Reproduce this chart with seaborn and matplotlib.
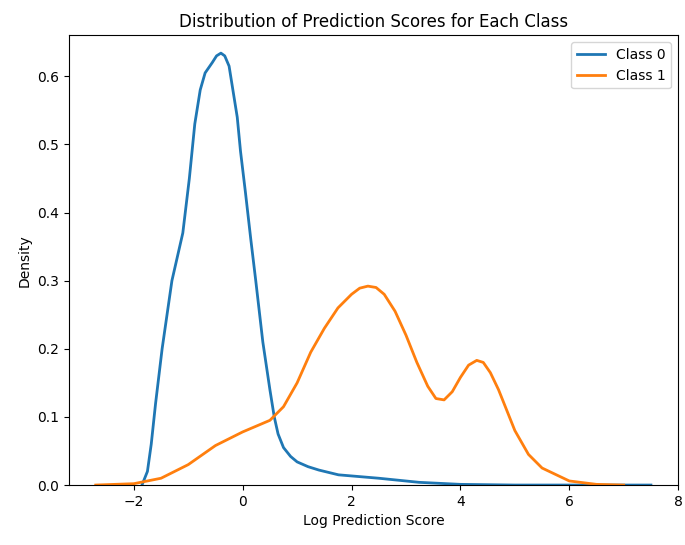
import matplotlib
matplotlib.use("Agg")
import matplotlib.pyplot as plt
import seaborn as sns
import pandas as pd

x0 = [-1.85, -1.75, -1.68, -1.6, -1.48, -1.3, -1.1, -0.98, -0.88, -0.78, -0.69, -0.56, -0.48, -0.4, -0.33, -0.25, -0.18, -0.1, -0.04, 0.05, 0.15, 0.24, 0.37, 0.5, 0.58, 0.65, 0.75, 0.88, 1.0, 1.2, 1.4, 1.76, 2.5, 3.24, 4.0, 5.0, 6.0, 7.5]
y0 = [0.0, 0.02, 0.06, 0.12, 0.2, 0.3, 0.37, 0.45, 0.53, 0.58, 0.605, 0.62, 0.63, 0.634, 0.63, 0.615, 0.58, 0.54, 0.49, 0.43, 0.36, 0.3, 0.21, 0.14, 0.1, 0.075, 0.055, 0.042, 0.034, 0.027, 0.022, 0.015, 0.01, 0.004, 0.001, 0.0, 0.0, 0.0]
x1 = [-2.7, -2.0, -1.5, -1.0, -0.5, 0.0, 0.5, 0.75, 1.0, 1.25, 1.5, 1.75, 2.0, 2.15, 2.3, 2.45, 2.6, 2.8, 3.0, 3.2, 3.4, 3.55, 3.7, 3.85, 4.0, 4.15, 4.3, 4.42, 4.55, 4.7, 4.85, 5.0, 5.25, 5.5, 6.0, 6.5, 7.0]
y1 = [0.0, 0.002, 0.01, 0.03, 0.058, 0.078, 0.095, 0.115, 0.15, 0.195, 0.23, 0.26, 0.28, 0.289, 0.292, 0.29, 0.28, 0.255, 0.22, 0.18, 0.145, 0.127, 0.125, 0.137, 0.158, 0.176, 0.183, 0.18, 0.165, 0.14, 0.11, 0.08, 0.045, 0.025, 0.006, 0.001, 0.0]

df = pd.concat([
    pd.DataFrame({"x": x0, "y": y0, "cls": "Class 0"}),
    pd.DataFrame({"x": x1, "y": y1, "cls": "Class 1"}),
])

fig, ax = plt.subplots(figsize=(6.85, 5.45), dpi=100)
sns.lineplot(data=df, x="x", y="y", hue="cls", ax=ax, linewidth=2, palette=["#1f77b4", "#ff7f0e"])
ax.legend(title=None, loc="upper right")
ax.set_xlim(-3.2, 8.0)
ax.set_ylim(0, 0.66)
ax.set_xticks([-2, 0, 2, 4, 6, 8])
ax.set_xlabel("Log Prediction Score")
ax.set_ylabel("Density")
ax.set_title("Distribution of Prediction Scores for Each Class")
fig.subplots_adjust(left=0.1, right=0.99, top=0.935, bottom=0.11)
fig.savefig("out.png")
